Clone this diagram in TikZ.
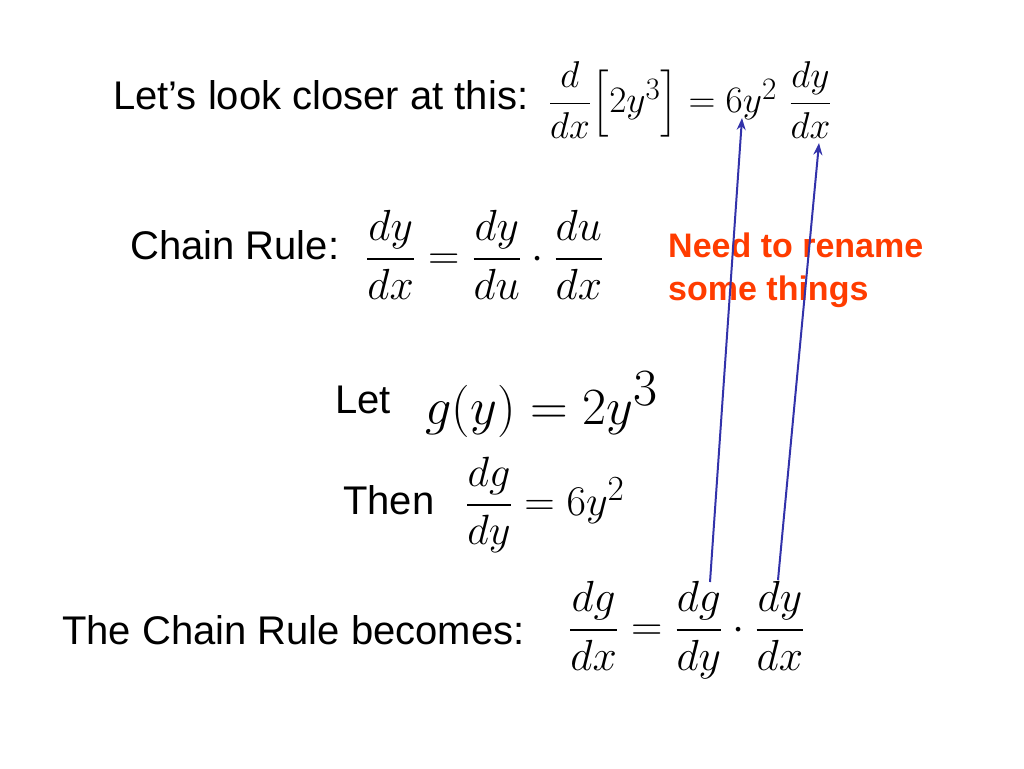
\documentclass[tikz,border=0pt]{standalone}
\usepackage{amsmath}
\usepackage{fontspec}
\setmainfont{Liberation Sans}
\usetikzlibrary{arrows.meta}
\begin{document}
\begin{tikzpicture}[x=1pt,y=-1pt,
  lbl/.style={anchor=west,font=\fontsize{40}{44}\selectfont,inner sep=0},
  mth/.style={inner sep=0,anchor=west,transform shape},
  arr/.style={draw={rgb,255:red,50;green,50;blue,170},line width=2pt,-{Stealth[length=12pt,width=9pt]}}]
\useasboundingbox (0,0) rectangle (1024,768);
\node[lbl] (t1) at (113,95) {Let’s look closer at this:};
\node[mth,scale=1.5] (m1) at (548,100) {\fontsize{28}{30}\selectfont$\dfrac{d}{dx}\Bigl[2y^3\Bigr]=6y^2\ \dfrac{dy}{dx}$};
\node[lbl] (t2) at (130,245) {Chain Rule:};
\node[mth,scale=1.75] (m2) at (365,255) {\fontsize{38}{40}\selectfont$\dfrac{dy}{dx}=\dfrac{dy}{du}\cdot\dfrac{du}{dx}$};
\node[anchor=west,inner sep=0,align=left,text={rgb,255:red,255;green,60;blue,0},font=\bfseries\fontsize{34}{43}\selectfont] (t3) at (668,270) {Need to rename\\some things};
\node[lbl] (t4) at (335,400) {Let};
\node[mth,scale=2.1] (m4) at (425,405) {\fontsize{44}{46}\selectfont$g(y)=2y^3$};
\node[lbl] (t5) at (343,500) {Then};
\node[mth,scale=1.7] (m5) at (465,505) {\fontsize{32}{34}\selectfont$\dfrac{dg}{dy}=6y^2$};
\node[lbl] (t6) at (62,630) {The Chain Rule becomes:};
\node[mth,scale=1.75] (m6) at (568,630) {\fontsize{38}{40}\selectfont$\dfrac{dg}{dx}=\dfrac{dg}{dy}\cdot\dfrac{dy}{dx}$};
\coordinate (a1s) at (710,582); \coordinate (a1e) at (742,118);
\coordinate (a2s) at (778,580); \coordinate (a2e) at (819,143);
\draw[arr] (a1s) -- (a1e);
\draw[arr] (a2s) -- (a2e);
\end{tikzpicture}
\end{document}
